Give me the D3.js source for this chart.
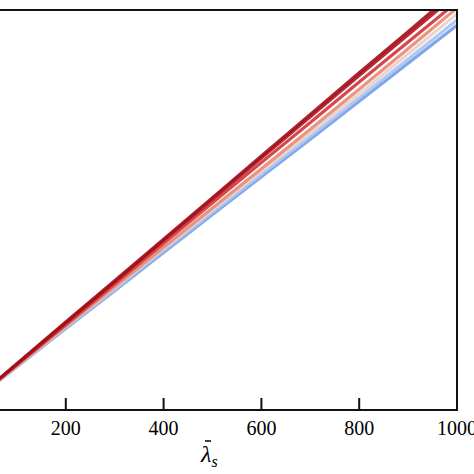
<!DOCTYPE html>
<html><head><meta charset="utf-8">
<script src="https://cdn.jsdelivr.net/npm/d3@7.9.0/dist/d3.min.js"></script>
<style>body{margin:0;background:#fff}svg{display:block}</style>
</head><body><svg id="chart" width="474" height="474"></svg>
<script>
const xs = [0, 100, 200, 300, 400, 500, 600, 700, 800, 900, 1000];
const blue = [13, 108, 204, 298, 394, 489, 583, 677, 772, 867, 962];
const lightBlue = [13, 109, 206, 301, 398, 494, 589, 684, 780, 877, 975];
const palePink = [13, 110, 208, 305, 403, 500, 596, 693, 790, 890, 990];
const salmon = [12, 111, 210, 308, 407, 505, 603, 702, 802, 903, 1005];
const red = [12, 113, 214, 315, 417, 518, 619, 719, 820, 920, 1020];
const darkRed = [12, 115, 218, 320, 424, 527, 630, 733, 836, 938, 1040];
const darkest = [12, 116, 220, 323, 427, 531, 635, 739, 843, 946, 1050];
const series = [blue, lightBlue, palePink, salmon, red, darkRed, darkest];
const colors = ["#6f9de8", "#a7c2ee", "#e9cfcb", "#e58a72", "#d1343a", "#b5141f", "#9e0f1a"];
const tickValues = [200, 400, 600, 800, 1000];

const svg = d3.select('#chart');
const x = d3.scaleLinear().domain([0, 1000]).range([-32, 457]);
const y = d3.scaleLinear().domain([0, 1000]).range([410, 10]);

svg.append('clipPath').attr('id', 'clip')
    .append('rect').attr('x', 0).attr('y', 10).attr('width', 457).attr('height', 400);

const line = d3.line().x((d, i) => x(xs[i])).y(d => y(d));
const g = svg.append('g').attr('clip-path', 'url(#clip)');
series.forEach((s, i) => {
    g.append('path').attr('d', line(s)).attr('fill', 'none')
        .attr('stroke', colors[i]).attr('stroke-width', 3.2).attr('opacity', 0.9);
});

// frame
svg.append('path').attr('d', 'M0,10H457V410H0').attr('fill', 'none')
    .attr('stroke', '#111').attr('stroke-width', 2);

// ticks inside
const axis = svg.append('g');
tickValues.forEach(t => {
    axis.append('line').attr('x1', x(t)).attr('x2', x(t)).attr('y1', 410).attr('y2', 398)
        .attr('stroke', '#111').attr('stroke-width', 2);
    axis.append('text').attr('x', x(t)).attr('y', 435).attr('text-anchor', 'middle')
        .attr('font-family', 'Liberation Serif, serif').attr('font-size', 20).text(t);
});

// x label: lambda with bar, subscript s
const lab = svg.append('text').attr('x', 201).attr('y', 462)
    .attr('font-family', 'Liberation Serif, serif').attr('font-style', 'italic').attr('font-size', 24);
lab.append('tspan').text('λ');
lab.append('tspan').attr('font-size', 16).attr('dy', 5).text('s');
svg.append('line').attr('x1', 205).attr('x2', 211).attr('y1', 441).attr('y2', 441)
    .attr('stroke', '#111').attr('stroke-width', 1.6);
</script></body></html>
